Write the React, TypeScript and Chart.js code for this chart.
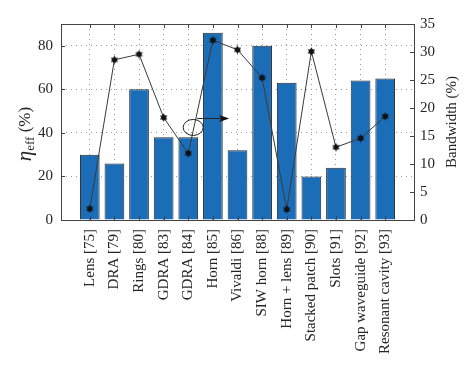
import React, { useEffect, useRef } from "react";
import { Chart, registerables } from "chart.js";

Chart.register(...registerables);

const categories = [
  "Lens [75]",
  "DRA [79]",
  "Rings [80]",
  "GDRA [83]",
  "GDRA [84]",
  "Horn [85]",
  "Vivaldi [86]",
  "SIW horn [88]",
  "Horn + lens [89]",
  "Stacked patch [90]",
  "Slots [91]",
  "Gap waveguide [92]",
  "Resonant cavity [93]",
];
const efficiency = [30, 26, 60, 38, 38, 86, 32, 80, 63, 20, 24, 64, 65];
const bandwidth = [2, 28.6, 29.6, 18.3, 11.9, 32.1, 30.4, 25.4, 1.9, 30.1, 13, 14.6, 18.5];
const leftTicks = [0, 20, 40, 60, 80];
const rightTicks = [0, 5, 10, 15, 20, 25, 30, 35];

const FONT = "'Liberation Serif', 'DejaVu Serif', serif";
const TEXT = "#262626";

function makeHexagram(size: number): HTMLCanvasElement {
  const c = document.createElement("canvas");
  c.width = size;
  c.height = size;
  const g = c.getContext("2d")!;
  const cx = size / 2;
  const cy = size / 2;
  const r = size / 2 - 0.3;
  g.fillStyle = "#111";
  for (let k = 0; k < 2; k++) {
    g.beginPath();
    for (let i = 0; i < 3; i++) {
      const a = -Math.PI / 2 + k * Math.PI + (i * 2 * Math.PI) / 3;
      const px = cx + r * Math.cos(a);
      const py = cy + r * Math.sin(a);
      if (i === 0) g.moveTo(px, py);
      else g.lineTo(px, py);
    }
    g.closePath();
    g.fill();
  }
  return c;
}

const decorPlugin = {
  id: "decor",
  afterDatasetsDraw(chart: any) {
    const { ctx, chartArea, scales } = chart;
    const { left, right, top, bottom } = chartArea;
    ctx.save();
    // ellipse + arrow annotation
    const cx = scales.x.getPixelForValue(5.2);
    const cy = scales.y.getPixelForValue(42.5);
    ctx.strokeStyle = "#222";
    ctx.lineWidth = 1;
    ctx.beginPath();
    ctx.ellipse(cx, cy, 10, 8, 0, 0, Math.PI * 2);
    ctx.stroke();
    const ay = cy - 9;
    ctx.beginPath();
    ctx.moveTo(cx + 4, ay);
    ctx.lineTo(cx + 28, ay);
    ctx.stroke();
    ctx.fillStyle = "#111";
    ctx.beginPath();
    ctx.moveTo(cx + 36, ay);
    ctx.lineTo(cx + 26, ay - 3.5);
    ctx.lineTo(cx + 28, ay);
    ctx.lineTo(cx + 26, ay + 3.5);
    ctx.closePath();
    ctx.fill();

    // box
    ctx.strokeStyle = "#444";
    ctx.lineWidth = 1;
    ctx.strokeRect(Math.round(left) + 0.5, Math.round(top) + 0.5, Math.round(right - left), Math.round(bottom - top));

    // inner tick marks
    ctx.beginPath();
    for (let i = 0; i < categories.length; i++) {
      const px = Math.round(scales.x.getPixelForValue(i + 1)) + 0.5;
      ctx.moveTo(px, bottom);
      ctx.lineTo(px, bottom - 4);
      ctx.moveTo(px, top);
      ctx.lineTo(px, top + 4);
    }
    for (const t of rightTicks) {
      const py = Math.round(scales.y2.getPixelForValue(t)) + 0.5;
      ctx.moveTo(right, py);
      ctx.lineTo(right - 4, py);
    }
    for (const t of leftTicks) {
      const py = Math.round(scales.y.getPixelForValue(t)) + 0.5;
      ctx.moveTo(left, py);
      ctx.lineTo(left + 4, py);
    }
    ctx.stroke();
    ctx.restore();
  },
  afterDraw(chart: any) {
    const { ctx } = chart;
    ctx.save();
    ctx.fillStyle = TEXT;
    ctx.textBaseline = "middle";
    // left title: eta_eff (%)
    ctx.translate(26, 134);
    ctx.rotate(-Math.PI / 2);
    const f1 = `italic 21px ${FONT}`;
    const f2 = `13px ${FONT}`;
    const f3 = `17px ${FONT}`;
    ctx.font = f1;
    const w1 = ctx.measureText("\u03b7").width;
    ctx.font = f2;
    const w2 = ctx.measureText("eff").width;
    ctx.font = f3;
    const w3 = ctx.measureText(" (%)").width;
    let x0 = -(w1 + w2 + w3) / 2;
    ctx.textAlign = "left";
    ctx.font = f1;
    ctx.fillText("\u03b7", x0, -1);
    x0 += w1;
    ctx.font = f2;
    ctx.fillText("eff", x0, 5);
    x0 += w2;
    ctx.font = f3;
    ctx.fillText(" (%)", x0, 0);
    ctx.restore();

    ctx.save();
    ctx.fillStyle = TEXT;
    ctx.textBaseline = "middle";
    ctx.textAlign = "center";
    ctx.translate(452, 122);
    ctx.rotate(-Math.PI / 2);
    ctx.font = `15px ${FONT}`;
    ctx.fillText("Bandwidth (%)", 0, 0);
    ctx.restore();
  },
};

export default function App() {
  const ref = useRef<HTMLCanvasElement | null>(null);
  useEffect(() => {
    document.body.style.margin = "0";
    const canvas = ref.current!;
    const star = makeHexagram(9);
    const chart = new Chart(canvas, {
      type: "bar",
      data: {
        datasets: [
          {
            type: "line",
            label: "Bandwidth",
            data: bandwidth.map((v, i) => ({ x: i + 1, y: v })),
            yAxisID: "y2",
            borderColor: "#3a3a3a",
            borderWidth: 1,
            pointStyle: star as any,
            pointRadius: 4.5,
            tension: 0,
            order: 0,
          } as any,
          {
            type: "bar",
            label: "Efficiency",
            data: efficiency.map((v, i) => ({ x: i + 1, y: v })),
            yAxisID: "y",
            backgroundColor: "#1c6db8",
            borderColor: "#2a2a2a",
            borderWidth: 1,
            barPercentage: 0.8,
            categoryPercentage: 1,
            order: 1,
          } as any,
        ],
      },
      options: {
        responsive: false,
        animation: false,
        events: [],
        layout: { padding: { top: 24, left: 0, right: 0, bottom: 0 } },
        plugins: { legend: { display: false }, tooltip: { enabled: false } },
        scales: {
          x: {
            type: "linear",
            min: -0.17,
            max: 14.17,
            offset: false,
            afterBuildTicks: (s: any) => {
              s.ticks = categories.map((_, i) => ({ value: i + 1 }));
            },
            afterFit: (s: any) => {
              s.height = 152;
            },
            ticks: {
              autoSkip: false,
              maxRotation: 90,
              minRotation: 90,
              padding: 9,
              color: TEXT,
              font: { family: FONT, size: 15 },
              callback: (v: any) => categories[Math.round(v) - 1] ?? "",
            },
            grid: { color: "#9a9a9a", lineWidth: 1, drawTicks: false, offset: false },
            border: { display: false, dash: [1, 4] },
          },
          y: {
            type: "linear",
            position: "left",
            min: 0,
            max: 90,
            afterBuildTicks: (s: any) => {
              s.ticks = leftTicks.map((v) => ({ value: v }));
            },
            afterFit: (s: any) => {
              s.width = 61;
            },
            ticks: {
              padding: 8,
              color: TEXT,
              font: { family: FONT, size: 15 },
            },
            grid: { color: "#9a9a9a", lineWidth: 1, drawTicks: false },
            border: { display: false, dash: [1, 4] },
          },
          y2: {
            type: "linear",
            position: "right",
            min: 0,
            max: 35,
            afterBuildTicks: (s: any) => {
              s.ticks = rightTicks.map((v) => ({ value: v }));
            },
            afterFit: (s: any) => {
              s.width = 60;
            },
            ticks: {
              padding: 6,
              color: TEXT,
              font: { family: FONT, size: 15 },
            },
            grid: { display: false, drawTicks: false },
            border: { display: false },
          },
        },
      } as any,
      plugins: [decorPlugin],
    });
    return () => chart.destroy();
  }, []);
  return (
    <div style={{ position: "absolute", left: 0, top: 0, width: 474, height: 372 }}>
      <canvas ref={ref} width={474} height={372} style={{ width: 474, height: 372 }} />
    </div>
  );
}
